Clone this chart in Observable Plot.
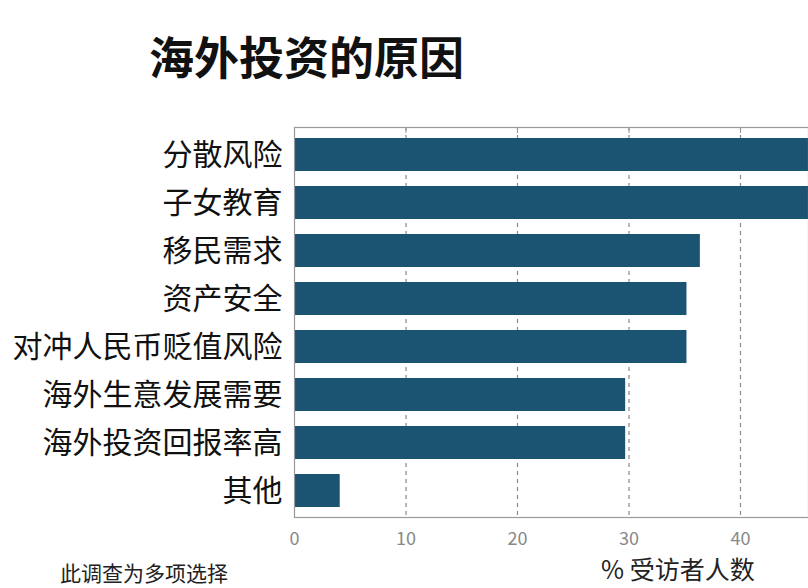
<!DOCTYPE html>
<html><head><meta charset="utf-8">
<script src="https://cdn.jsdelivr.net/npm/d3@7"></script>
<script src="https://cdn.jsdelivr.net/npm/@observablehq/plot@0.6"></script>
<style>
body{margin:0;background:#fff;}
#wrap{position:relative;width:808px;height:588px;overflow:hidden;background:#fff;font-family:"Noto Sans CJK SC","Noto Sans",sans-serif;}
#title{position:absolute;left:149px;top:33px;font-size:45px;font-weight:bold;color:#111;line-height:1;}
#chart{position:absolute;left:0;top:110px;}
#xlabel{position:absolute;left:601px;top:555px;font-size:25px;color:#222;line-height:1.1;}
#note{position:absolute;left:60px;top:560px;font-size:21px;color:#222;line-height:1.15;}
</style></head>
<body>
<div id="wrap">
  <div id="title">海外投资的原因</div>
  <div id="chart"></div>
  <div id="xlabel">% 受访者人数</div>
  <div id="note">此调查为多项选择</div>
</div>
<script>
const categories = ["分散风险","子女教育","移民需求","资产安全","对冲人民币贬值风险","海外生意发展需要","海外投资回报率高","其他"];
const values = [55, 50, 36.4, 35.2, 35.2, 29.7, 29.7, 4.1];
const ticks = [0, 10, 20, 30, 40];
const gridTicks = [10, 20, 30, 40];

const data = categories.map((c, i) => ({reason: c, pct: values[i]}));

const chart = Plot.plot({
  width: 808,
  height: 478,
  marginLeft: 294,
  marginRight: 0,
  marginTop: 17,
  marginBottom: 71,
  style: {fontFamily: '"Noto Sans CJK SC","Noto Sans",sans-serif', background: "transparent"},
  x: {domain: [0, 46.1], label: null},
  y: {domain: categories, paddingInner: 0.32, paddingOuter: 0.16, label: null},
  marks: [
    Plot.ruleX(gridTicks, {stroke: "#8a8a8a", strokeDasharray: "4,4", strokeWidth: 1.2}),
    Plot.barX(data, {x: "pct", y: "reason", fill: "#1b5373", clip: true}),
    Plot.frame({stroke: "#9a9a9a", strokeWidth: 1.2}),
    Plot.axisX({anchor: "top", ticks: gridTicks, tickSize: -5, stroke: "#9a9a9a", tickFormat: () => "", label: null}),
    Plot.axisX({ticks: ticks, tickSize: 0, tickPadding: 15, fontSize: 18, color: "#888", label: null, tickFormat: d => String(d)}),
    Plot.axisY({tickSize: 0, tickPadding: 12, fontSize: 30, color: "#111", label: null})
  ]
});
document.getElementById("chart").appendChild(chart);
</script>
</body></html>
